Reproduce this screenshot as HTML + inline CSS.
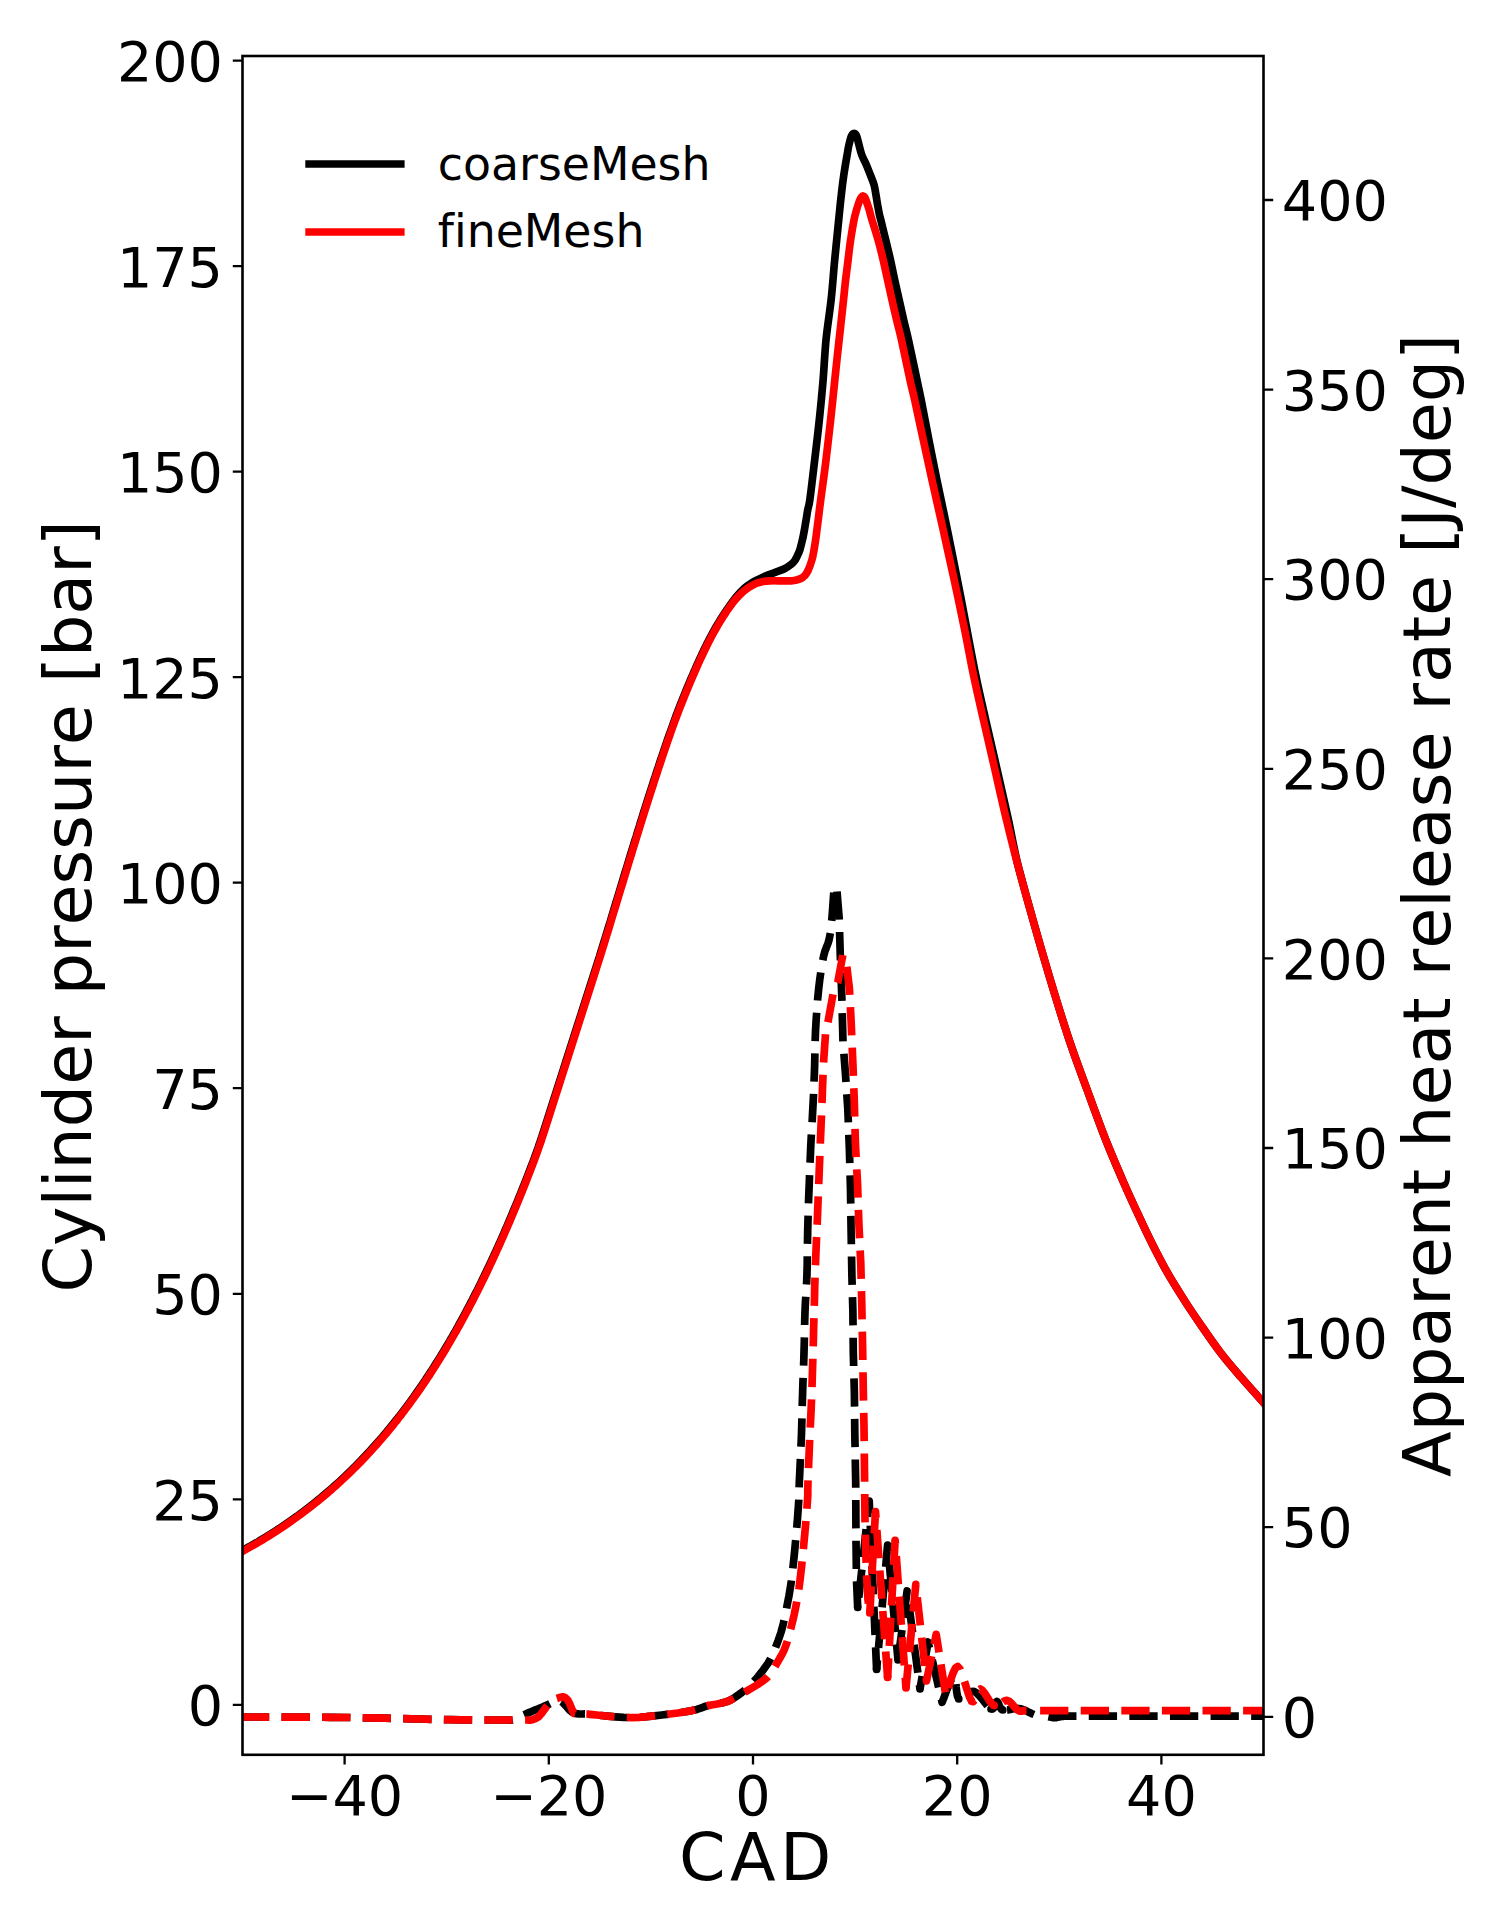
<!DOCTYPE html>
<html><head><meta charset="utf-8"><title>Cylinder pressure and apparent heat release rate</title>
<style>html,body{margin:0;padding:0;background:#fff}svg{display:block}text{font-kerning:none;font-variant-ligatures:none;font-feature-settings:"liga" 0,"clig" 0;font-family:"DejaVu Sans","Liberation Sans",sans-serif;fill:#000}.t{font-size:55.6px}.l{font-size:66.7px}.g{font-size:45.8px}</style></head><body>
<svg width="1488" height="1912" viewBox="0 0 1488 1912">
<rect width="1488" height="1912" fill="#fff"/>
<defs><clipPath id="c"><rect x="242.5" y="56.0" width="1021.0" height="1698.8"/></clipPath></defs>
<g clip-path="url(#c)" fill="none" stroke-linejoin="round">
<path d="M240.6,1551.5C242.1,1550.6 246.7,1548.1 249.7,1546.5C252.7,1544.8 255.5,1543.1 258.4,1541.5C261.2,1539.8 263.9,1538.1 266.6,1536.5C269.3,1534.8 272.0,1533.1 274.6,1531.5C277.2,1529.8 279.7,1528.1 282.2,1526.5C284.7,1524.8 287.1,1523.1 289.5,1521.5C291.9,1519.8 294.2,1518.1 296.5,1516.5C298.8,1514.8 301.1,1513.1 303.3,1511.5C305.5,1509.8 307.7,1508.1 309.8,1506.5C312.0,1504.8 314.1,1503.1 316.1,1501.5C318.2,1499.8 320.2,1498.1 322.2,1496.5C324.2,1494.8 326.2,1493.1 328.1,1491.5C330.1,1489.8 332.0,1488.1 333.8,1486.5C335.7,1484.8 337.6,1483.1 339.4,1481.5C341.2,1479.8 343.0,1478.1 344.7,1476.5C346.5,1474.8 348.2,1473.1 349.9,1471.5C351.7,1469.8 353.3,1468.1 355.0,1466.5C356.7,1464.8 358.3,1463.1 359.9,1461.5C361.6,1459.8 363.2,1458.1 364.7,1456.5C366.3,1454.8 367.9,1453.1 369.4,1451.5C370.9,1449.8 372.4,1448.1 373.9,1446.5C375.4,1444.8 376.9,1443.1 378.4,1441.5C379.8,1439.8 381.3,1438.1 382.7,1436.5C384.1,1434.8 385.5,1433.1 386.9,1431.5C388.3,1429.8 389.7,1428.1 391.0,1426.5C392.4,1424.8 393.7,1423.1 395.0,1421.5C396.4,1419.8 397.7,1418.1 399.0,1416.5C400.3,1414.8 401.6,1413.1 402.8,1411.5C404.1,1409.8 405.4,1408.1 406.6,1406.5C407.8,1404.8 409.1,1403.1 410.3,1401.5C411.5,1399.8 412.7,1398.1 413.9,1396.5C415.1,1394.8 416.3,1393.1 417.4,1391.5C418.6,1389.8 419.8,1388.1 420.9,1386.5C422.0,1384.8 423.2,1383.1 424.3,1381.5C425.4,1379.8 426.5,1378.1 427.6,1376.5C428.7,1374.8 429.8,1373.1 430.9,1371.5C432.0,1369.8 433.1,1368.1 434.1,1366.5C435.2,1364.8 436.2,1363.1 437.3,1361.5C438.3,1359.8 439.4,1358.1 440.4,1356.5C441.4,1354.8 442.4,1353.1 443.4,1351.5C444.5,1349.8 445.5,1348.1 446.4,1346.5C447.4,1344.8 448.4,1343.1 449.4,1341.5C450.4,1339.8 451.3,1338.1 452.3,1336.5C453.3,1334.8 454.2,1333.1 455.2,1331.5C456.1,1329.8 457.0,1328.1 458.0,1326.5C458.9,1324.8 459.8,1323.1 460.7,1321.5C461.6,1319.8 462.6,1318.1 463.5,1316.5C464.4,1314.8 465.3,1313.1 466.1,1311.5C467.0,1309.8 467.9,1308.1 468.8,1306.5C469.7,1304.8 470.5,1303.1 471.4,1301.5C472.3,1299.8 473.1,1298.1 474.0,1296.5C474.8,1294.8 475.7,1293.1 476.5,1291.5C477.4,1289.8 478.2,1288.1 479.0,1286.5C479.9,1284.8 480.7,1283.1 481.5,1281.5C482.3,1279.8 483.1,1278.1 483.9,1276.5C484.7,1274.8 485.5,1273.1 486.3,1271.5C487.1,1269.8 487.9,1268.1 488.7,1266.5C489.5,1264.8 490.3,1263.1 491.1,1261.5C491.8,1259.8 492.6,1258.1 493.4,1256.5C494.2,1254.8 494.9,1253.1 495.7,1251.5C496.4,1249.8 497.2,1248.1 498.0,1246.5C498.7,1244.8 499.4,1243.1 500.2,1241.5C500.9,1239.8 501.7,1238.1 502.4,1236.5C503.1,1234.8 503.9,1233.1 504.6,1231.5C505.3,1229.8 506.0,1228.1 506.8,1226.5C507.5,1224.8 508.2,1223.1 508.9,1221.5C509.6,1219.8 510.3,1218.1 511.0,1216.5C511.7,1214.8 512.4,1213.1 513.1,1211.5C513.8,1209.8 514.5,1208.1 515.2,1206.5C515.9,1204.8 516.6,1203.1 517.3,1201.5C518.0,1199.8 518.6,1198.1 519.3,1196.5C520.0,1194.8 520.7,1193.1 521.3,1191.5C522.0,1189.8 522.7,1188.1 523.3,1186.5C524.0,1184.8 524.7,1183.1 525.3,1181.5C526.0,1179.8 526.6,1178.1 527.3,1176.5C527.9,1174.8 528.6,1173.1 529.2,1171.5C529.9,1169.8 530.5,1168.1 531.1,1166.5C531.8,1164.8 532.4,1163.1 533.1,1161.5C533.7,1159.8 534.3,1158.1 534.9,1156.5C535.5,1154.8 536.1,1153.1 536.7,1151.5C537.3,1149.8 537.9,1148.1 538.5,1146.5C539.1,1144.8 539.6,1143.1 540.2,1141.5C540.8,1139.8 541.3,1138.1 541.9,1136.5C542.4,1134.8 543.0,1133.1 543.5,1131.5C544.1,1129.8 544.6,1128.1 545.1,1126.5C545.7,1124.8 546.2,1123.1 546.7,1121.5C547.3,1119.8 547.8,1118.1 548.3,1116.5C548.9,1114.8 549.4,1113.1 549.9,1111.5C550.4,1109.8 551.0,1108.1 551.5,1106.5C552.0,1104.8 552.6,1103.1 553.1,1101.5C553.6,1099.8 554.2,1098.1 554.7,1096.5C555.3,1094.8 555.8,1093.1 556.3,1091.5C556.9,1089.8 557.4,1088.1 557.9,1086.5C558.5,1084.8 559.0,1083.1 559.5,1081.5C560.1,1079.8 560.6,1078.1 561.1,1076.5C561.7,1074.8 562.2,1073.1 562.7,1071.5C563.3,1069.8 563.8,1068.1 564.3,1066.5C564.9,1064.8 565.4,1063.1 565.9,1061.5C566.4,1059.8 567.0,1058.1 567.5,1056.5C568.0,1054.8 568.6,1053.1 569.1,1051.5C569.6,1049.8 570.2,1048.1 570.7,1046.5C571.2,1044.8 571.8,1043.1 572.3,1041.5C572.8,1039.8 573.4,1038.1 573.9,1036.5C574.4,1034.8 575.0,1033.1 575.5,1031.5C576.0,1029.8 576.6,1028.1 577.1,1026.5C577.6,1024.8 578.2,1023.1 578.7,1021.5C579.3,1019.8 579.8,1018.1 580.3,1016.5C580.9,1014.8 581.4,1013.1 581.9,1011.5C582.4,1009.8 583.0,1008.1 583.5,1006.5C584.0,1004.8 584.6,1003.1 585.1,1001.5C585.6,999.8 586.2,998.1 586.7,996.5C587.2,994.8 587.8,993.1 588.3,991.5C588.8,989.8 589.4,988.1 589.9,986.5C590.4,984.8 591.0,983.1 591.5,981.5C592.0,979.8 592.6,978.1 593.1,976.5C593.6,974.8 594.2,973.1 594.7,971.5C595.2,969.8 595.8,968.1 596.3,966.5C596.8,964.8 597.4,963.1 597.9,961.5C598.4,959.8 598.9,958.1 599.5,956.5C600.0,954.8 600.5,953.1 601.0,951.5C601.5,949.8 602.1,948.1 602.6,946.5C603.1,944.8 603.6,943.1 604.1,941.5C604.6,939.8 605.2,938.1 605.7,936.5C606.2,934.8 606.7,933.1 607.2,931.5C607.7,929.8 608.2,928.1 608.7,926.5C609.2,924.8 609.7,923.1 610.3,921.5C610.8,919.8 611.3,918.1 611.8,916.5C612.3,914.8 612.8,913.1 613.3,911.5C613.8,909.8 614.3,908.1 614.8,906.5C615.3,904.8 615.8,903.1 616.3,901.5C616.8,899.8 617.4,898.1 617.9,896.5C618.4,894.8 618.9,893.1 619.4,891.5C619.9,889.8 620.4,888.1 620.9,886.5C621.4,884.8 621.9,883.1 622.4,881.5C622.9,879.8 623.4,878.1 623.9,876.5C624.4,874.8 624.9,873.1 625.4,871.5C625.9,869.8 626.5,868.1 627.0,866.5C627.5,864.8 628.0,863.1 628.5,861.5C629.0,859.8 629.5,858.1 630.0,856.5C630.5,854.8 631.0,853.1 631.5,851.5C632.0,849.8 632.6,848.1 633.1,846.5C633.6,844.8 634.1,843.1 634.6,841.5C635.1,839.8 635.6,838.1 636.2,836.5C636.7,834.8 637.2,833.1 637.7,831.5C638.2,829.8 638.7,828.1 639.3,826.5C639.8,824.8 640.3,823.1 640.8,821.5C641.3,819.8 641.9,818.1 642.4,816.5C642.9,814.8 643.4,813.1 643.9,811.5C644.5,809.8 645.0,808.1 645.5,806.5C646.1,804.8 646.6,803.1 647.1,801.5C647.6,799.8 648.2,798.1 648.7,796.5C649.2,794.8 649.8,793.1 650.3,791.5C650.9,789.8 651.4,788.1 651.9,786.5C652.5,784.8 653.0,783.1 653.5,781.5C654.1,779.8 654.6,778.1 655.2,776.5C655.7,774.8 656.3,773.1 656.8,771.5C657.4,769.8 657.9,768.1 658.5,766.5C659.0,764.8 659.6,763.1 660.1,761.5C660.7,759.8 661.2,758.1 661.8,756.5C662.3,754.8 662.9,753.1 663.5,751.5C664.0,749.8 664.6,748.1 665.2,746.5C665.7,744.8 666.3,743.1 666.9,741.5C667.5,739.8 668.0,738.1 668.6,736.5C669.2,734.8 669.8,733.1 670.4,731.5C671.0,729.8 671.6,728.1 672.2,726.5C672.8,724.8 673.4,723.1 674.0,721.5C674.6,719.8 675.2,718.1 675.8,716.5C676.4,714.8 677.1,713.1 677.7,711.5C678.3,709.8 679.0,708.1 679.6,706.5C680.3,704.8 680.9,703.1 681.6,701.5C682.3,699.8 682.9,698.1 683.6,696.5C684.3,694.8 685.0,693.1 685.6,691.5C686.3,689.8 687.0,688.1 687.7,686.5C688.4,684.8 689.1,683.1 689.8,681.5C690.5,679.8 691.2,678.1 692.0,676.5C692.7,674.8 693.4,673.1 694.1,671.5C694.9,669.8 695.6,668.1 696.3,666.5C697.1,664.8 697.8,663.1 698.6,661.5C699.3,659.8 700.1,658.1 700.9,656.5C701.6,654.8 702.4,653.1 703.2,651.5C704.0,649.8 704.8,648.1 705.7,646.5C706.5,644.8 707.3,643.1 708.2,641.5C709.0,639.8 709.9,638.1 710.8,636.5C711.7,634.8 712.6,633.1 713.5,631.5C714.4,629.8 715.4,628.1 716.3,626.5C717.3,624.8 718.3,623.1 719.3,621.5C720.3,619.8 721.3,618.1 722.4,616.5C723.5,614.8 724.9,612.6 725.6,611.5C726.4,610.3 725.3,611.9 727.0,609.5C728.7,607.1 733.2,600.7 736.0,597.2C738.8,593.7 741.3,591.0 744.0,588.5C746.7,586.0 749.6,584.1 752.3,582.4C755.0,580.7 757.6,579.7 760.3,578.4C763.0,577.1 765.7,575.9 768.4,574.8C771.1,573.7 773.8,572.9 776.5,571.9C779.2,570.9 782.1,569.9 784.5,568.7C786.9,567.5 789.3,565.8 791.0,564.5C792.7,563.2 793.5,562.3 794.5,561.0C795.5,559.7 796.1,558.3 797.0,556.5C797.9,554.7 798.9,552.8 799.8,550.0C800.7,547.2 801.6,543.3 802.4,540.0C803.2,536.7 803.8,533.3 804.4,530.0C805.0,526.7 805.5,523.3 806.1,520.0C806.7,516.7 807.1,513.3 807.7,510.0C808.3,506.7 808.6,508.3 809.8,500.0C811.0,491.7 813.1,473.3 814.7,460.0C816.3,446.7 817.9,433.3 819.3,420.0C820.7,406.7 822.0,393.3 823.1,380.0C824.2,366.7 824.7,353.3 826.0,340.0C827.3,326.7 829.6,313.3 831.1,300.0C832.6,286.7 833.4,273.3 834.7,260.0C836.0,246.7 837.6,230.8 838.7,220.0C839.8,209.2 840.4,202.5 841.3,195.0C842.1,187.5 842.8,181.7 843.8,175.0C844.8,168.3 846.2,160.0 847.1,155.0C848.0,150.0 848.2,148.1 848.9,145.0C849.6,141.9 850.6,138.3 851.2,136.5C851.8,134.7 852.2,134.5 852.7,134.0C853.2,133.5 853.7,133.3 854.1,133.3C854.5,133.3 855.0,133.5 855.4,134.0C855.8,134.5 856.2,134.7 856.8,136.5C857.4,138.3 858.2,141.9 859.0,145.0C859.8,148.1 860.6,151.7 861.8,155.0C863.0,158.3 865.0,161.7 866.4,165.0C867.8,168.3 869.1,171.7 870.4,175.0C871.7,178.3 873.2,181.7 874.1,185.0C875.0,188.3 875.4,191.7 876.0,195.0C876.6,198.3 877.0,201.7 877.6,205.0C878.2,208.3 879.0,212.5 879.5,215.0C880.0,217.5 879.8,215.8 880.8,220.0C881.8,224.2 884.1,233.3 885.7,240.0C887.3,246.7 889.0,253.3 890.5,260.0C892.0,266.7 893.2,273.3 894.7,280.0C896.2,286.7 897.7,293.3 899.2,300.0C900.7,306.7 902.2,313.3 903.7,320.0C905.2,326.7 906.3,330.0 908.5,340.0C910.7,350.0 914.9,370.0 917.0,380.0C919.1,390.0 919.2,390.0 921.2,400.0C923.2,410.0 926.3,426.7 928.9,440.0C931.5,453.3 933.8,465.0 936.9,480.0C940.0,495.0 944.0,513.3 947.4,530.0C950.8,546.7 954.1,563.3 957.4,580.0C960.7,596.7 964.0,614.2 967.0,630.0C970.0,645.8 972.6,660.0 975.7,675.0C978.8,690.0 982.1,704.2 985.7,720.0C989.3,735.8 993.4,753.3 997.2,770.0C1001.0,786.7 1005.2,804.7 1008.5,820.0C1011.8,835.3 1013.2,845.3 1017.2,862.0C1021.3,878.7 1027.5,900.3 1033.0,920.0C1038.5,939.7 1044.4,960.0 1050.4,980.0C1056.4,1000.0 1063.1,1021.7 1069.2,1040.0C1075.3,1058.3 1081.1,1073.3 1087.2,1090.0C1093.3,1106.7 1099.8,1124.8 1105.8,1140.0C1111.8,1155.2 1117.9,1169.2 1123.0,1181.0C1128.1,1192.8 1131.8,1200.8 1136.5,1210.9C1141.2,1221.0 1146.0,1231.5 1151.2,1241.8C1156.4,1252.1 1161.8,1262.8 1167.4,1272.7C1173.0,1282.6 1179.2,1292.2 1184.8,1301.0C1190.4,1309.8 1195.0,1316.5 1201.0,1325.2C1207.0,1333.9 1214.4,1344.7 1221.1,1353.4C1227.8,1362.1 1234.3,1369.5 1241.3,1377.6C1248.2,1385.7 1258.0,1396.5 1262.8,1401.8C1267.6,1407.1 1268.8,1408.2 1270.0,1409.5" stroke="#000" stroke-width="7.7"/>
<path d="M241.2,1552.0C242.7,1551.2 247.3,1548.7 250.2,1547.0C253.2,1545.3 256.1,1543.7 258.9,1542.0C261.7,1540.3 264.5,1538.7 267.2,1537.0C269.9,1535.3 272.5,1533.7 275.1,1532.0C277.7,1530.3 280.2,1528.7 282.7,1527.0C285.2,1525.3 287.6,1523.7 290.0,1522.0C292.4,1520.3 294.8,1518.7 297.1,1517.0C299.4,1515.3 301.6,1513.7 303.8,1512.0C306.1,1510.3 308.2,1508.7 310.4,1507.0C312.5,1505.3 314.6,1503.7 316.7,1502.0C318.7,1500.3 320.8,1498.7 322.8,1497.0C324.8,1495.3 326.7,1493.7 328.7,1492.0C330.6,1490.3 332.5,1488.7 334.4,1487.0C336.3,1485.3 338.1,1483.7 339.9,1482.0C341.7,1480.3 343.5,1478.7 345.3,1477.0C347.1,1475.3 348.8,1473.7 350.5,1472.0C352.2,1470.3 353.9,1468.7 355.6,1467.0C357.2,1465.3 358.9,1463.7 360.5,1462.0C362.1,1460.3 363.7,1458.7 365.3,1457.0C366.9,1455.3 368.4,1453.7 369.9,1452.0C371.5,1450.3 373.0,1448.7 374.5,1447.0C376.0,1445.3 377.5,1443.7 378.9,1442.0C380.4,1440.3 381.8,1438.7 383.2,1437.0C384.7,1435.3 386.1,1433.7 387.5,1432.0C388.8,1430.3 390.2,1428.7 391.6,1427.0C392.9,1425.3 394.3,1423.7 395.6,1422.0C396.9,1420.3 398.2,1418.7 399.5,1417.0C400.8,1415.3 402.1,1413.7 403.4,1412.0C404.6,1410.3 405.9,1408.7 407.1,1407.0C408.4,1405.3 409.6,1403.7 410.8,1402.0C412.0,1400.3 413.3,1398.7 414.4,1397.0C415.6,1395.3 416.8,1393.7 418.0,1392.0C419.2,1390.3 420.3,1388.7 421.5,1387.0C422.6,1385.3 423.7,1383.7 424.9,1382.0C426.0,1380.3 427.1,1378.7 428.2,1377.0C429.3,1375.3 430.4,1373.7 431.5,1372.0C432.5,1370.3 433.6,1368.7 434.7,1367.0C435.7,1365.3 436.8,1363.7 437.8,1362.0C438.9,1360.3 439.9,1358.7 440.9,1357.0C442.0,1355.3 443.0,1353.7 444.0,1352.0C445.0,1350.3 446.0,1348.7 447.0,1347.0C448.0,1345.3 449.0,1343.7 449.9,1342.0C450.9,1340.3 451.9,1338.7 452.8,1337.0C453.8,1335.3 454.8,1333.7 455.7,1332.0C456.6,1330.3 457.6,1328.7 458.5,1327.0C459.4,1325.3 460.4,1323.7 461.3,1322.0C462.2,1320.3 463.1,1318.7 464.0,1317.0C464.9,1315.3 465.8,1313.7 466.7,1312.0C467.6,1310.3 468.5,1308.7 469.3,1307.0C470.2,1305.3 471.1,1303.7 472.0,1302.0C472.8,1300.3 473.7,1298.7 474.5,1297.0C475.4,1295.3 476.2,1293.7 477.1,1292.0C477.9,1290.3 478.7,1288.7 479.6,1287.0C480.4,1285.3 481.2,1283.7 482.0,1282.0C482.9,1280.3 483.7,1278.7 484.5,1277.0C485.3,1275.3 486.1,1273.7 486.9,1272.0C487.7,1270.3 488.5,1268.7 489.3,1267.0C490.1,1265.3 490.8,1263.7 491.6,1262.0C492.4,1260.3 493.2,1258.7 493.9,1257.0C494.7,1255.3 495.5,1253.7 496.2,1252.0C497.0,1250.3 497.7,1248.7 498.5,1247.0C499.3,1245.3 500.0,1243.7 500.7,1242.0C501.5,1240.3 502.2,1238.7 503.0,1237.0C503.7,1235.3 504.4,1233.7 505.1,1232.0C505.9,1230.3 506.6,1228.7 507.3,1227.0C508.0,1225.3 508.7,1223.7 509.5,1222.0C510.2,1220.3 510.9,1218.7 511.6,1217.0C512.3,1215.3 513.0,1213.7 513.7,1212.0C514.4,1210.3 515.1,1208.7 515.8,1207.0C516.4,1205.3 517.1,1203.7 517.8,1202.0C518.5,1200.3 519.2,1198.7 519.9,1197.0C520.5,1195.3 521.2,1193.7 521.9,1192.0C522.5,1190.3 523.2,1188.7 523.9,1187.0C524.5,1185.3 525.2,1183.7 525.9,1182.0C526.5,1180.3 527.2,1178.7 527.8,1177.0C528.5,1175.3 529.1,1173.7 529.8,1172.0C530.4,1170.3 531.1,1168.7 531.7,1167.0C532.3,1165.3 533.0,1163.7 533.6,1162.0C534.2,1160.3 534.9,1158.7 535.5,1157.0C536.1,1155.3 536.7,1153.7 537.3,1152.0C537.9,1150.3 538.5,1148.7 539.0,1147.0C539.6,1145.3 540.2,1143.7 540.8,1142.0C541.3,1140.3 541.9,1138.7 542.4,1137.0C543.0,1135.3 543.5,1133.7 544.1,1132.0C544.6,1130.3 545.2,1128.7 545.7,1127.0C546.2,1125.3 546.8,1123.7 547.3,1122.0C547.8,1120.3 548.4,1118.7 548.9,1117.0C549.4,1115.3 549.9,1113.7 550.5,1112.0C551.0,1110.3 551.5,1108.7 552.1,1107.0C552.6,1105.3 553.1,1103.7 553.7,1102.0C554.2,1100.3 554.7,1098.7 555.3,1097.0C555.8,1095.3 556.3,1093.7 556.9,1092.0C557.4,1090.3 557.9,1088.7 558.5,1087.0C559.0,1085.3 559.5,1083.7 560.1,1082.0C560.6,1080.3 561.1,1078.7 561.7,1077.0C562.2,1075.3 562.7,1073.7 563.3,1072.0C563.8,1070.3 564.3,1068.7 564.9,1067.0C565.4,1065.3 565.9,1063.7 566.5,1062.0C567.0,1060.3 567.5,1058.7 568.1,1057.0C568.6,1055.3 569.1,1053.7 569.7,1052.0C570.2,1050.3 570.7,1048.7 571.3,1047.0C571.8,1045.3 572.3,1043.7 572.9,1042.0C573.4,1040.3 573.9,1038.7 574.5,1037.0C575.0,1035.3 575.5,1033.7 576.1,1032.0C576.6,1030.3 577.1,1028.7 577.7,1027.0C578.2,1025.3 578.7,1023.7 579.3,1022.0C579.8,1020.3 580.3,1018.7 580.9,1017.0C581.4,1015.3 581.9,1013.7 582.5,1012.0C583.0,1010.3 583.5,1008.7 584.1,1007.0C584.6,1005.3 585.1,1003.7 585.7,1002.0C586.2,1000.3 586.7,998.7 587.3,997.0C587.8,995.3 588.3,993.7 588.9,992.0C589.4,990.3 589.9,988.7 590.5,987.0C591.0,985.3 591.5,983.7 592.1,982.0C592.6,980.3 593.1,978.7 593.7,977.0C594.2,975.3 594.7,973.7 595.3,972.0C595.8,970.3 596.3,968.7 596.8,967.0C597.4,965.3 597.9,963.7 598.4,962.0C599.0,960.3 599.5,958.7 600.0,957.0C600.5,955.3 601.1,953.7 601.6,952.0C602.1,950.3 602.6,948.7 603.1,947.0C603.7,945.3 604.2,943.7 604.7,942.0C605.2,940.3 605.7,938.7 606.2,937.0C606.7,935.3 607.2,933.7 607.8,932.0C608.3,930.3 608.8,928.7 609.3,927.0C609.8,925.3 610.3,923.7 610.8,922.0C611.3,920.3 611.8,918.7 612.3,917.0C612.8,915.3 613.3,913.7 613.8,912.0C614.4,910.3 614.9,908.7 615.4,907.0C615.9,905.3 616.4,903.7 616.9,902.0C617.4,900.3 617.9,898.7 618.4,897.0C618.9,895.3 619.4,893.7 619.9,892.0C620.4,890.3 620.9,888.7 621.4,887.0C622.0,885.3 622.5,883.7 623.0,882.0C623.5,880.3 624.0,878.7 624.5,877.0C625.0,875.3 625.5,873.7 626.0,872.0C626.5,870.3 627.0,868.7 627.5,867.0C628.0,865.3 628.5,863.7 629.0,862.0C629.5,860.3 630.0,858.7 630.6,857.0C631.1,855.3 631.6,853.7 632.1,852.0C632.6,850.3 633.1,848.7 633.6,847.0C634.1,845.3 634.7,843.7 635.2,842.0C635.7,840.3 636.2,838.7 636.7,837.0C637.2,835.3 637.7,833.7 638.3,832.0C638.8,830.3 639.3,828.7 639.8,827.0C640.3,825.3 640.8,823.7 641.4,822.0C641.9,820.3 642.4,818.7 642.9,817.0C643.4,815.3 644.0,813.7 644.5,812.0C645.0,810.3 645.5,808.7 646.1,807.0C646.6,805.3 647.1,803.7 647.7,802.0C648.2,800.3 648.7,798.7 649.3,797.0C649.8,795.3 650.3,793.7 650.9,792.0C651.4,790.3 651.9,788.7 652.5,787.0C653.0,785.3 653.6,783.7 654.1,782.0C654.6,780.3 655.2,778.7 655.7,777.0C656.3,775.3 656.8,773.7 657.4,772.0C657.9,770.3 658.4,768.7 659.0,767.0C659.6,765.3 660.1,763.7 660.7,762.0C661.2,760.3 661.8,758.7 662.3,757.0C662.9,755.3 663.5,753.7 664.0,752.0C664.6,750.3 665.2,748.7 665.7,747.0C666.3,745.3 666.9,743.7 667.4,742.0C668.0,740.3 668.6,738.7 669.2,737.0C669.8,735.3 670.3,733.7 670.9,732.0C671.5,730.3 672.1,728.7 672.7,727.0C673.3,725.3 673.9,723.7 674.5,722.0C675.1,720.3 675.7,718.7 676.4,717.0C677.0,715.3 677.6,713.7 678.3,712.0C678.9,710.3 679.5,708.7 680.2,707.0C680.8,705.3 681.5,703.7 682.2,702.0C682.8,700.3 683.5,698.7 684.2,697.0C684.8,695.3 685.5,693.7 686.2,692.0C686.9,690.3 687.6,688.7 688.3,687.0C689.0,685.3 689.7,683.7 690.4,682.0C691.1,680.3 691.8,678.7 692.5,677.0C693.2,675.3 693.9,673.7 694.7,672.0C695.4,670.3 696.1,668.7 696.9,667.0C697.6,665.3 698.4,663.7 699.1,662.0C699.9,660.3 700.6,658.7 701.4,657.0C702.2,655.3 703.0,653.7 703.8,652.0C704.6,650.3 705.4,648.7 706.2,647.0C707.0,645.3 707.9,643.7 708.7,642.0C709.6,640.3 710.4,638.7 711.3,637.0C712.2,635.3 713.1,633.7 714.0,632.0C715.0,630.3 715.9,628.7 716.9,627.0C717.8,625.3 718.8,623.7 719.8,622.0C720.9,620.3 721.9,618.7 722.9,617.0C724.0,615.3 725.4,613.2 726.2,612.0C726.9,610.8 726.0,612.0 727.5,610.0C729.0,608.0 732.6,602.9 735.0,600.0C737.4,597.1 739.7,594.8 742.0,592.6C744.3,590.5 746.7,588.7 749.0,587.2C751.3,585.7 753.7,584.5 756.0,583.5C758.3,582.6 760.7,582.0 763.0,581.5C765.3,581.0 766.8,580.9 770.0,580.8C773.2,580.7 778.2,580.8 782.0,580.8C785.8,580.8 789.5,581.2 792.6,580.8C795.7,580.4 798.5,579.5 800.6,578.6C802.7,577.7 803.7,576.7 805.0,575.3C806.3,573.9 807.1,572.5 808.3,570.0C809.4,567.5 810.9,563.3 811.9,560.0C812.9,556.7 813.4,553.3 814.0,550.0C814.6,546.7 815.1,543.3 815.6,540.0C816.1,536.7 816.5,533.3 816.9,530.0C817.3,526.7 817.8,523.3 818.2,520.0C818.6,516.7 819.0,513.3 819.4,510.0C819.8,506.7 819.6,508.3 820.7,500.0C821.8,491.7 824.4,473.3 826.0,460.0C827.6,446.7 829.1,433.3 830.6,420.0C832.1,406.7 833.4,393.3 834.8,380.0C836.2,366.7 837.6,353.3 839.1,340.0C840.6,326.7 842.4,310.0 843.5,300.0C844.6,290.0 844.8,286.7 845.6,280.0C846.4,273.3 847.3,266.7 848.1,260.0C848.9,253.3 849.6,246.7 850.6,240.0C851.6,233.3 853.0,225.0 854.0,220.0C855.0,215.0 855.6,213.2 856.5,210.0C857.4,206.8 858.6,203.2 859.4,201.0C860.2,198.8 860.9,197.8 861.5,197.0C862.1,196.2 862.7,195.9 863.2,196.0C863.8,196.1 864.3,196.5 864.8,197.3C865.3,198.1 865.5,198.9 866.3,201.0C867.0,203.1 868.3,206.8 869.3,210.0C870.2,213.2 870.5,215.0 872.0,220.0C873.5,225.0 876.2,233.3 878.1,240.0C880.0,246.7 881.6,253.3 883.2,260.0C884.8,266.7 886.1,273.3 887.6,280.0C889.1,286.7 890.5,293.3 892.0,300.0C893.5,306.7 895.0,313.3 896.6,320.0C898.2,326.7 899.3,330.0 901.5,340.0C903.7,350.0 907.8,370.0 910.0,380.0C912.2,390.0 912.5,390.0 914.7,400.0C916.9,410.0 920.4,426.7 923.3,440.0C926.2,453.3 928.7,465.0 932.0,480.0C935.3,495.0 939.5,513.3 943.2,530.0C946.9,546.7 950.6,563.3 954.2,580.0C957.8,596.7 961.5,614.2 964.7,630.0C967.9,645.8 970.4,660.0 973.5,675.0C976.6,690.0 979.9,704.2 983.5,720.0C987.1,735.8 991.2,753.3 995.0,770.0C998.8,786.7 1002.8,804.7 1006.5,820.0C1010.2,835.3 1012.6,845.3 1017.0,862.0C1021.4,878.7 1027.4,900.3 1033.0,920.0C1038.6,939.7 1044.4,960.0 1050.4,980.0C1056.4,1000.0 1063.1,1021.7 1069.2,1040.0C1075.3,1058.3 1081.1,1073.3 1087.2,1090.0C1093.3,1106.7 1099.8,1124.8 1105.8,1140.0C1111.8,1155.2 1117.9,1169.2 1123.0,1181.0C1128.1,1192.8 1131.8,1200.8 1136.5,1210.9C1141.2,1221.0 1146.0,1231.5 1151.2,1241.8C1156.4,1252.1 1161.8,1262.8 1167.4,1272.7C1173.0,1282.6 1179.2,1292.2 1184.8,1301.0C1190.4,1309.8 1195.0,1316.5 1201.0,1325.2C1207.0,1333.9 1214.4,1344.7 1221.1,1353.4C1227.8,1362.1 1234.3,1369.5 1241.3,1377.6C1248.2,1385.7 1258.0,1396.5 1262.8,1401.8C1267.6,1407.1 1268.8,1408.2 1270.0,1409.5" stroke="#f00" stroke-width="7.7"/>
<path d="M240.9,1717.0L257.4,1717.0L281.1,1717.1L307.0,1717.2L330.0,1717.3L349.5,1717.5L368.1,1717.9L385.1,1718.2L400.0,1718.5L412.1,1718.8L421.9,1719.0L430.7,1719.3L440.0,1719.5L450.4,1719.7L460.9,1719.8L471.1,1719.9L480.0,1720.0L487.7,1720.0L494.6,1720.0L500.4,1720.0L505.0,1720.0L508.0,1720.0L509.7,1720.1L510.7,1720.1L512.0,1720.0L513.6,1719.7L515.1,1719.2L516.6,1718.6L518.0,1718.0L519.2,1717.4L520.4,1716.8L521.6,1716.1L523.0,1715.3L524.8,1714.5L526.8,1713.6L528.9,1712.6L531.0,1711.7L533.2,1710.8L535.4,1709.9L537.7,1709.0L540.0,1708.0L542.5,1707.0L545.1,1705.9L547.6,1704.8L549.7,1703.9L551.2,1703.1L552.2,1702.5L553.1,1702.0L554.0,1701.5L555.0,1701.1L556.0,1700.8L557.0,1700.5L558.0,1700.5L559.0,1700.6L560.0,1700.9L561.0,1701.4L562.0,1702.0L563.0,1702.8L564.0,1703.8L565.0,1704.9L566.0,1706.0L567.0,1707.1L568.0,1708.3L569.0,1709.5L570.0,1710.5L571.0,1711.3L571.9,1712.0L572.9,1712.5L574.0,1713.0L575.3,1713.4L576.8,1713.7L578.4,1713.9L580.0,1714.0L581.6,1714.0L583.1,1714.0L584.9,1713.9L587.2,1714.0L589.9,1714.3L592.8,1714.6L593.0,1714.6" stroke="#000" stroke-width="7.7" stroke-dasharray="28.3 12.3" stroke-dashoffset="0.00"/>
<path d="M593.0,1714.6L596.5,1715.0L601.3,1715.5L607.7,1716.1L615.4,1716.8L623.6,1717.4L631.5,1717.6L639.1,1717.3L646.6,1716.7L654.2,1715.9L661.8,1715.0L669.7,1714.0L677.8,1713.0L685.5,1711.8L692.0,1710.6L696.9,1709.4L700.7,1708.1L704.1,1706.8L708.0,1705.6L712.7,1704.6L717.7,1703.7L722.6,1702.8L726.9,1701.6L730.4,1700.1L733.4,1698.4L736.2,1696.5L739.0,1694.5L741.8,1692.5L744.6,1690.3L747.3,1688.0L750.0,1685.5L752.7,1682.7L755.4,1679.7L758.0,1676.6L760.5,1673.4L763.0,1670.3L765.3,1667.1L767.7,1663.8L769.9,1660.0L772.1,1655.6L774.2,1650.8L776.2,1645.8L778.0,1641.1L779.5,1636.8L780.9,1632.6L782.1,1628.4L783.3,1623.7L784.5,1618.3L785.8,1612.4L786.9,1606.5L788.0,1600.8L789.0,1595.7L789.8,1590.8L790.6,1585.9L791.4,1580.6L792.1,1575.0L792.8,1569.1L793.4,1563.0L794.1,1556.5L794.8,1549.4L795.5,1541.9L796.2,1534.2L796.8,1526.9L797.4,1519.8L797.9,1512.7L798.4,1506.0L798.8,1500.0L799.0,1495.6L799.0,1492.4L799.1,1488.4L799.3,1482.0L799.8,1471.8L800.4,1459.0L801.0,1445.6L801.5,1433.3L801.8,1422.8L802.1,1412.9L802.3,1403.3L802.6,1393.5L802.9,1383.3L803.3,1373.1L803.7,1362.8L804.0,1352.5L804.3,1342.1L804.5,1331.7L804.7,1321.4L805.0,1311.6L805.4,1302.6L806.0,1294.1L806.5,1285.5L806.9,1276.0L807.2,1265.2L807.3,1253.6L807.5,1241.9L807.7,1230.6L808.0,1220.0L808.3,1209.8L808.6,1199.7L809.0,1189.6L809.4,1179.6L809.7,1169.6L810.2,1159.7L810.6,1149.7L811.1,1139.4L811.7,1129.0L812.3,1118.7L812.8,1108.8L813.3,1099.6L813.7,1090.9L814.0,1082.2L814.4,1073.0L814.7,1063.1L814.9,1052.8L815.1,1042.2L815.5,1031.6L816.1,1020.7L816.9,1009.5L817.7,998.6L818.7,988.5L819.8,979.3L821.0,970.7L822.3,962.9L823.6,956.2L825.0,951.1L826.4,947.3L827.8,943.9L829.0,940.0L829.9,935.6L830.6,931.0L831.1,926.1L831.7,920.6L832.3,913.5L832.9,905.4L833.4,897.8L833.8,892.6" stroke="#000" stroke-width="7.7" stroke-dasharray="28.3 12.3" stroke-dashoffset="33.29"/>
<path d="M1041.0,1716.0L1041.8,1716.0L1042.9,1716.0L1044.2,1716.1L1045.6,1716.2L1047.0,1716.3L1048.4,1716.6L1049.9,1716.9L1051.4,1717.3L1053.0,1717.6L1054.5,1717.7L1056.0,1717.6L1057.5,1717.3L1059.0,1717.0L1060.5,1716.6L1062.0,1716.4L1063.2,1716.3L1064.1,1716.2L1065.2,1716.2L1067.0,1716.2L1070.0,1716.2L1075.1,1716.2L1081.9,1716.2L1089.1,1716.2L1095.6,1716.2L1100.0,1716.2L1270.0,1716.2" stroke="#000" stroke-width="7.7" stroke-dasharray="28.3 12.3" stroke-dashoffset="33.15"/>
<path d="M837.0,891.5L839.2,918.5L840.3,956.2L841.9,999.3L843.0,1042.4L845.4,1073.0L847.8,1108.8L849.4,1149.7L850.5,1189.6L851.1,1230.6L851.9,1276.0L852.9,1311.6L853.3,1352.5L854.4,1393.5L854.8,1433.3L855.7,1482.0L856.0,1540.0L856.5,1580.0L857.7,1607.5" stroke="#000" stroke-width="7.7" stroke-dasharray="28.3 12.3" stroke-dashoffset="0.00"/>
<path d="M857.7,1607.5L857.7,1607.5L869.2,1501.0L876.6,1669.5" stroke="#000" stroke-width="7.7" stroke-dasharray="28.3 12.3" stroke-dashoffset="30.68"/>
<path d="M876.6,1669.5L876.6,1669.5L887.6,1545.0L898.0,1660.0" stroke="#000" stroke-width="7.7" stroke-dasharray="28.3 12.3" stroke-dashoffset="18.82"/>
<path d="M898.0,1660.0L898.0,1660.0L907.1,1591.0L920.0,1689.0" stroke="#000" stroke-width="7.7" stroke-dasharray="28.3 12.3" stroke-dashoffset="38.60"/>
<path d="M920.0,1689.0L920.0,1689.0L928.1,1642.0L942.1,1702.3L943.5,1698.9L945.4,1693.7L947.7,1687.7L950.0,1682.1L952.2,1677.8L953.9,1676.0L955.0,1677.3L955.7,1681.2L956.1,1686.3L956.7,1691.8L957.5,1696.4L958.8,1699.0" stroke="#000" stroke-width="7.7" stroke-dasharray="28.3 12.3" stroke-dashoffset="15.21"/>
<path d="M958.8,1699.0L958.8,1699.0L960.7,1699.2L963.0,1697.8L965.5,1695.5L968.3,1693.1L971.1,1691.5L973.8,1691.3L976.7,1693.1L979.8,1696.3L983.0,1700.1L986.0,1704.0L988.8,1707.2L991.0,1709.0" stroke="#000" stroke-width="7.7" stroke-dasharray="28.3 12.3" stroke-dashoffset="31.27"/>
<path d="M991.0,1709.0L991.0,1709.0L992.6,1709.0L993.8,1707.8L994.7,1705.8L995.4,1703.7L996.0,1702.1L996.9,1701.5L997.8,1702.1L998.5,1703.5L999.2,1705.4L1000.1,1707.3L1001.2,1709.0L1002.8,1710.0" stroke="#000" stroke-width="7.7" stroke-dasharray="28.3 12.3" stroke-dashoffset="3.91"/>
<path d="M1002.8,1710.0L1002.8,1710.0L1004.9,1710.2L1007.5,1710.0L1010.3,1709.4L1013.3,1708.8L1016.3,1708.4L1019.0,1708.5L1021.7,1709.1L1024.4,1710.1L1027.1,1711.3L1029.6,1712.6L1032.0,1713.7L1034.0,1714.5L1035.7,1715.0L1037.2,1715.4L1038.4,1715.6L1039.5,1715.8L1040.3,1715.9L1041.0,1716.0" stroke="#000" stroke-width="7.7" stroke-dasharray="28.3 12.3" stroke-dashoffset="36.33"/>
<circle cx="857.7" cy="1607.5" r="3.85" fill="#000" stroke="none"/>
<circle cx="876.6" cy="1669.5" r="3.85" fill="#000" stroke="none"/>
<circle cx="898.0" cy="1660.0" r="3.85" fill="#000" stroke="none"/>
<circle cx="920.0" cy="1689.0" r="3.85" fill="#000" stroke="none"/>
<circle cx="958.8" cy="1699.0" r="3.85" fill="#000" stroke="none"/>
<circle cx="991.0" cy="1709.0" r="3.85" fill="#000" stroke="none"/>
<circle cx="1002.8" cy="1710.0" r="3.85" fill="#000" stroke="none"/>
<path d="M240.9,1717.0L257.4,1717.0L281.1,1717.1L307.0,1717.2L330.0,1717.3L349.5,1717.5L368.1,1717.9L385.1,1718.2L400.0,1718.5L412.1,1718.8L421.9,1719.0L430.7,1719.3L440.0,1719.5L450.2,1719.7L460.6,1719.8L470.7,1719.9L480.0,1720.0L488.6,1720.0L496.6,1720.0L503.8,1720.0L510.0,1720.0L514.9,1720.0L518.8,1720.0L521.9,1720.0L524.7,1720.0L527.0,1720.0L528.8,1720.1L530.3,1720.1L531.9,1719.8L533.6,1719.3L535.3,1718.6L536.9,1717.8L538.4,1716.8L539.7,1715.6L541.0,1714.1L542.1,1712.6L543.2,1711.1L544.3,1709.7L545.3,1708.3L546.2,1706.9L547.3,1705.5L548.4,1704.1L549.5,1702.8L550.7,1701.5L552.0,1700.5L553.4,1699.7L554.9,1699.1L556.4,1698.6L557.7,1698.2L558.7,1697.8L559.5,1697.6L560.3,1697.4L561.0,1697.2L561.7,1697.0L562.4,1696.9L563.1,1696.9L563.8,1697.0L564.5,1697.3L565.2,1697.7L565.8,1698.2L566.5,1698.8L567.1,1699.4L567.7,1700.1L568.3,1701.0L569.0,1702.3L570.0,1704.5L571.1,1707.2L572.2,1709.9L573.1,1711.9L573.6,1712.9L573.9,1713.3L574.2,1713.5L574.8,1713.6L575.8,1713.8L577.1,1713.9L578.5,1714.0L580.0,1714.0L581.4,1714.0" stroke="#f00" stroke-width="7.7" stroke-dasharray="28.3 12.3" stroke-dashoffset="0.00"/>
<path d="M581.4,1714.0L581.5,1714.0L583.0,1713.9L584.9,1713.9L587.2,1714.0L589.9,1714.3L592.8,1714.6L596.5,1715.0L601.3,1715.5L607.7,1716.1L615.4,1716.8L623.6,1717.4L631.5,1717.6L639.1,1717.3L646.6,1716.7L654.2,1715.9L661.8,1715.0L669.7,1714.0L677.8,1713.0L685.5,1711.8L692.0,1710.6L696.9,1709.4L700.7,1708.1L704.1,1706.8L708.0,1705.6L712.5,1704.7L717.2,1704.0L722.0,1703.0L726.9,1701.6L731.8,1699.5L736.9,1696.8L741.9,1693.9L747.0,1690.9L752.3,1687.8L757.7,1684.5L762.8,1681.0L767.2,1677.4L770.6,1673.6L773.4,1669.5L775.7,1665.4L778.0,1661.3L780.2,1657.5L782.3,1653.8L784.2,1649.8L786.0,1645.2L787.8,1639.8L789.5,1633.8L791.1,1627.4L792.7,1621.0L794.2,1614.5L795.6,1607.7L796.9,1600.9L798.1,1594.1L799.1,1587.5L799.9,1581.1L800.7,1574.4L801.5,1567.2L802.3,1559.3L803.2,1550.8L804.0,1542.2L804.8,1533.6L805.6,1524.8L806.3,1515.8L807.0,1507.3L807.5,1500.0L807.8,1494.9L807.8,1491.5L807.8,1487.8L808.0,1482.0L808.3,1473.3L808.7,1462.9L809.2,1451.7L809.6,1440.9L810.1,1430.6L810.6,1420.3L811.1,1410.1L811.5,1399.9L811.9,1389.9L812.2,1380.0L812.5,1370.1L812.8,1360.1L813.1,1349.9L813.4,1339.7L813.6,1329.4L813.9,1319.1L814.2,1308.5L814.5,1297.8L814.7,1287.5L815.0,1278.2L815.2,1270.8L815.5,1264.6L815.7,1258.4L816.0,1251.0L816.4,1241.7L816.8,1231.4L817.3,1220.7L817.7,1210.1L818.1,1199.8L818.5,1189.5L818.9,1179.3L819.3,1169.1L819.7,1158.8L820.1,1148.3L820.5,1138.3L820.9,1129.3L821.2,1121.7L821.5,1115.0L821.7,1108.8L822.0,1102.3L822.3,1095.1L822.5,1087.7L822.8,1080.7L823.0,1074.8L823.2,1070.2L823.4,1066.6L823.5,1063.8L823.6,1061.8L825.5,1034.0L828.1,1021.4L833.1,993.7L837.8,982.1L842.8,955.1" stroke="#f00" stroke-width="7.7" stroke-dasharray="28.3 12.3" stroke-dashoffset="35.62"/>
<path d="M844.4,954.7L846.2,961.6L849.4,988.5L851.1,1020.9L852.9,1064.0L854.3,1101.3L855.4,1143.3L857.5,1183.1L858.9,1224.1L860.8,1264.0L861.8,1305.1L862.6,1346.0L863.2,1385.9L864.0,1426.9L864.5,1470.0L865.0,1520.0L866.3,1570.0L868.0,1600.0L869.8,1613.0" stroke="#f00" stroke-width="7.7" stroke-dasharray="28.3 12.3" stroke-dashoffset="28.33"/>
<path d="M869.8,1613.0L869.8,1613.0L875.5,1511.5L887.6,1677.5" stroke="#f00" stroke-width="7.7" stroke-dasharray="28.3 12.3" stroke-dashoffset="1.54"/>
<path d="M887.6,1677.5L887.6,1677.5L895.1,1540.3L906.0,1688.0" stroke="#f00" stroke-width="7.7" stroke-dasharray="28.3 12.3" stroke-dashoffset="9.10"/>
<path d="M906.0,1688.0L906.0,1688.0L915.8,1584.3L926.5,1681.0L936.2,1634.3L945.9,1696.0" stroke="#f00" stroke-width="7.7" stroke-dasharray="28.3 12.3" stroke-dashoffset="4.54"/>
<path d="M945.9,1696.0L945.9,1696.0L947.2,1692.0L948.9,1686.0L950.9,1679.1L953.2,1672.7L955.5,1668.0L957.7,1666.5L960.0,1669.1L962.4,1675.1L964.9,1682.8L967.4,1690.8L969.7,1697.5L971.7,1701.3" stroke="#f00" stroke-width="7.7" stroke-dasharray="28.3 12.3" stroke-dashoffset="32.27"/>
<path d="M971.7,1701.3L971.7,1701.3L973.4,1701.6L974.8,1699.6L976.0,1696.3L977.2,1692.7L978.6,1689.9L980.3,1689.0L982.3,1690.3L984.6,1693.2L987.0,1696.9L989.4,1700.6L991.9,1703.8L994.2,1705.6" stroke="#f00" stroke-width="7.7" stroke-dasharray="28.3 12.3" stroke-dashoffset="25.07"/>
<path d="M994.2,1705.6L994.2,1705.6L996.4,1705.8L998.7,1704.9L1000.9,1703.4L1003.1,1701.8L1005.2,1700.6L1007.2,1700.4L1009.2,1701.3L1011.1,1702.9L1012.9,1705.0L1014.7,1707.2L1016.4,1709.0L1017.9,1710.3L1019.3,1710.9L1020.5,1711.1L1021.6,1711.1L1022.7,1710.9L1023.8,1710.7L1025.0,1710.6L1026.4,1710.6L1027.9,1710.6L1029.4,1710.6L1030.9,1710.6L1032.1,1710.6L1033.0,1710.6" stroke="#f00" stroke-width="7.7" stroke-dasharray="28.3 12.3" stroke-dashoffset="30.88"/>
<path d="M1033.0,1710.6L1270.0,1710.6" stroke="#f00" stroke-width="7.7" stroke-dasharray="28.3 12.3" stroke-dashoffset="33.50"/>
<circle cx="869.8" cy="1613.0" r="3.85" fill="#f00" stroke="none"/>
<circle cx="887.6" cy="1677.5" r="3.85" fill="#f00" stroke="none"/>
<circle cx="906.0" cy="1688.0" r="3.85" fill="#f00" stroke="none"/>
<circle cx="971.7" cy="1701.3" r="3.85" fill="#f00" stroke="none"/>
<circle cx="994.2" cy="1705.6" r="3.85" fill="#f00" stroke="none"/>
</g>
<path d="M242.5,1704.8h-9.7M242.5,1499.3h-9.7M242.5,1293.8h-9.7M242.5,1088.2h-9.7M242.5,882.7h-9.7M242.5,677.2h-9.7M242.5,471.6h-9.7M242.5,266.1h-9.7M242.5,60.6h-9.7M1263.5,1716.8h9.7M1263.5,1527.2h9.7M1263.5,1337.6h9.7M1263.5,1148.0h9.7M1263.5,958.4h9.7M1263.5,768.8h9.7M1263.5,579.2h9.7M1263.5,389.6h9.7M1263.5,200.0h9.7M344.6,1754.8v9.7M548.8,1754.8v9.7M753.0,1754.8v9.7M957.2,1754.8v9.7M1161.4,1754.8v9.7" stroke="#000" stroke-width="2.3" fill="none"/>
<rect x="242.5" y="56.0" width="1021.0" height="1698.8" fill="none" stroke="#000" stroke-width="2.6"/>
<text class="t" x="223" y="1725.4" text-anchor="end">0</text>
<text class="t" x="223" y="1519.9" text-anchor="end">25</text>
<text class="t" x="223" y="1314.3" text-anchor="end">50</text>
<text class="t" x="223" y="1108.8" text-anchor="end">75</text>
<text class="t" x="223" y="903.3" text-anchor="end">100</text>
<text class="t" x="223" y="697.8" text-anchor="end">125</text>
<text class="t" x="223" y="492.2" text-anchor="end">150</text>
<text class="t" x="223" y="286.7" text-anchor="end">175</text>
<text class="t" x="223" y="81.2" text-anchor="end">200</text>
<text class="t" x="1281.8" y="1737.0">0</text>
<text class="t" x="1281.8" y="1547.4">50</text>
<text class="t" x="1281.8" y="1357.8">100</text>
<text class="t" x="1281.8" y="1168.2">150</text>
<text class="t" x="1281.8" y="978.6">200</text>
<text class="t" x="1281.8" y="789.0">250</text>
<text class="t" x="1281.8" y="599.4">300</text>
<text class="t" x="1281.8" y="409.8">350</text>
<text class="t" x="1281.8" y="220.2">400</text>
<text class="t" x="344.6" y="1814.6" text-anchor="middle">−40</text>
<text class="t" x="548.8" y="1814.6" text-anchor="middle">−20</text>
<text class="t" x="753.0" y="1814.6" text-anchor="middle">0</text>
<text class="t" x="957.2" y="1814.6" text-anchor="middle">20</text>
<text class="t" x="1161.4" y="1814.6" text-anchor="middle">40</text>
<text class="l" x="679.1" y="1880.4" style="letter-spacing:4.3px">CAD</text>
<text class="l" transform="translate(90.6,906.4) rotate(-90)" text-anchor="middle">Cylinder pressure [bar]</text>
<text class="l" transform="translate(1450,905.4) rotate(-90)" text-anchor="middle">Apparent heat release rate [J/deg]</text>
<path d="M305.3,164h99.3" stroke="#000" stroke-width="7.7"/>
<path d="M305.3,232h99.3" stroke="#f00" stroke-width="7.7"/>
<text class="g" x="437.8" y="180.4">coarseMesh</text>
<text class="g" x="437.8" y="247.1">fineMesh</text>
</svg></body></html>
